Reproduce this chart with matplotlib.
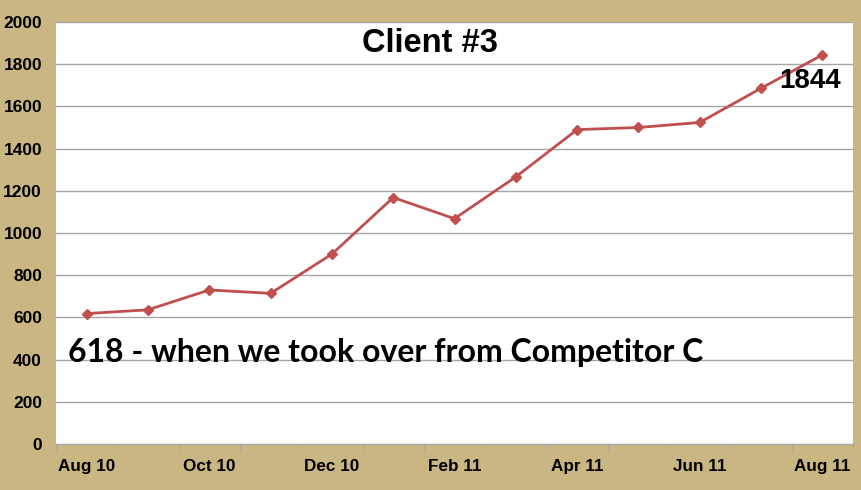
import matplotlib
matplotlib.use('Agg')
from matplotlib import pyplot as plt
import numpy as np

months = ['Aug 10', 'Sep 10', 'Oct 10', 'Nov 10', 'Dec 10', 'Jan 11', 'Feb 11',
          'Mar 11', 'Apr 11', 'May 11', 'Jun 11', 'Jul 11', 'Aug 11']
clients = [618, 636, 730, 714, 900, 1168, 1068, 1266, 1490, 1500, 1524, 1686, 1844]
yticks = [0, 200, 400, 600, 800, 1000, 1200, 1400, 1600, 1800, 2000]

bg = '#C9B683'
line_color = '#C0504D'

fig = plt.figure(figsize=(8.61, 4.9), dpi=100, facecolor=bg)
ax = fig.add_axes([56/861, 46/490, 797/861, 422/490])
ax.set_facecolor('white')

x = np.arange(len(months))
ax.plot(x, clients, color=line_color, lw=2, marker='D', markersize=5,
        markerfacecolor=line_color, markeredgecolor=line_color, zorder=3)

ax.set_xlim(-0.5, len(months) - 0.5)
ax.set_ylim(0, 2000)
ax.set_yticks(yticks)
ax.set_yticklabels([str(v) for v in yticks], fontfamily='Liberation Sans',
                   fontweight='bold', fontsize=12.5)
ax.yaxis.grid(color='#A6A6A6', linewidth=1)
ax.set_axisbelow(True)
ax.tick_params(axis='y', length=0, pad=10)

# category labels every other month, tick marks at category edges
ax.set_xticks(x[::2])
ax.set_xticklabels(months[::2], fontfamily='Liberation Sans', fontweight='bold', fontsize=12.3)
ax.set_xticks(np.arange(len(months) + 1) - 0.5, minor=True)
ax.tick_params(axis='x', which='major', length=0, pad=11)
ax.tick_params(axis='x', which='minor', length=4, color='#A6A6A6', direction='out')

for s in ['top', 'right', 'left']:
    ax.spines[s].set_visible(False)
ax.spines['bottom'].set_color('#A6A6A6')

ax.text(5.6, 1900, 'Client #3', ha='center', va='center', fontfamily='Liberation Sans',
        fontweight='bold', fontsize=23.5)
ax.text(11.8, 1720, str(clients[-1]), ha='center', va='center', fontfamily='Liberation Sans',
        fontweight='bold', fontsize=20)
ax.text(-0.3, 435, f'{clients[0]} - when we took over from Competitor C', ha='left', va='center',
        fontfamily='Lato', fontweight='bold', fontsize=23)

fig.savefig('out.png', dpi=100, facecolor=bg)
